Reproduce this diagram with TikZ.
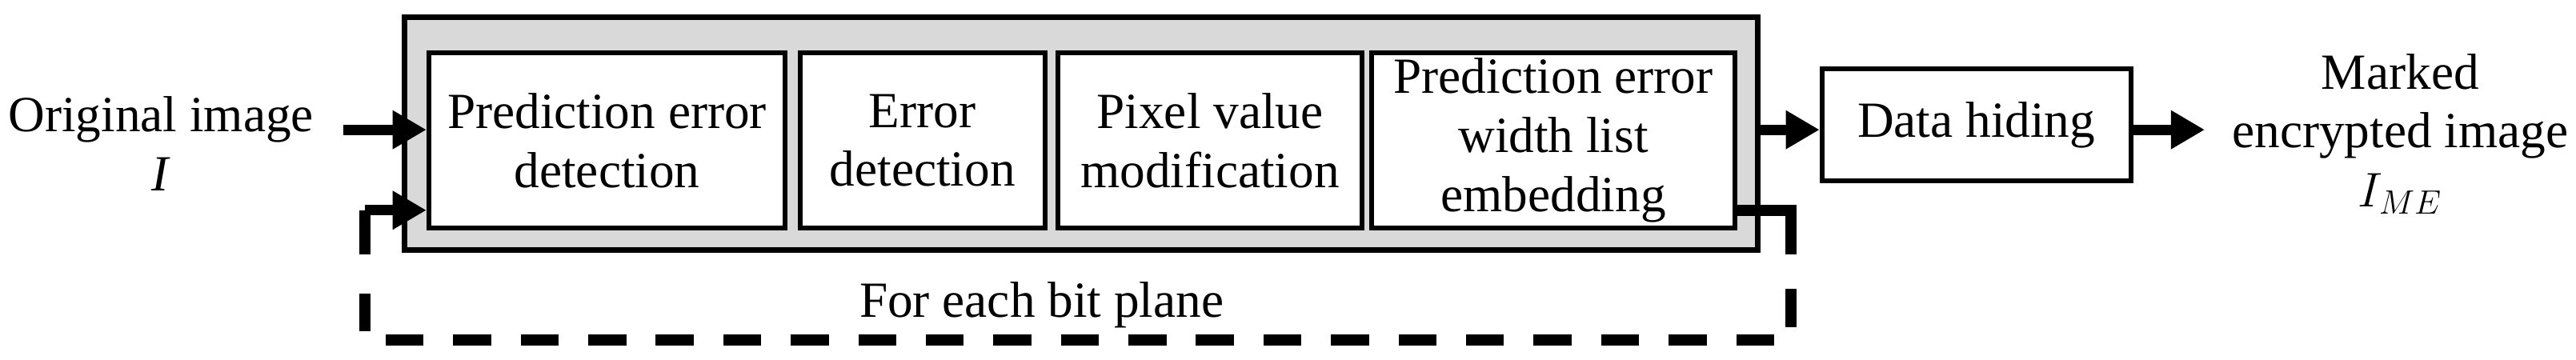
\documentclass[tikz,border=0pt]{standalone}
\usepackage{fontspec}
\setmainfont{Liberation Serif}
\newfontfamily\diagserif{Liberation Serif}
\usetikzlibrary{arrows.meta}
\begin{document}
\begin{tikzpicture}[x=0.02053cm,y=-0.02053cm,
  txt/.style={font=\diagserif\fontsize{18}{21}\selectfont,align=center,inner sep=0pt},
  inbox/.style={draw,fill=white,line width=1.7pt,txt,inner sep=0pt},
  bigarrow/.style={line width=3.7pt,-{Triangle[length=12pt,width=13pt]}},
  loopline/.style={line width=4pt}]
\useasboundingbox (0,0) rectangle (1568,219);
\node[draw,fill=black!15,line width=2pt,minimum width=824*0.02053cm,minimum height=141.5*0.02053cm,inner sep=0pt] (outer) at (658,81.25) {};
\node[inbox,minimum width=217*0.02053cm,minimum height=107*0.02053cm] (b1) at (369.5,85.5) {Prediction error\\detection};
\node[inbox,minimum width=149*0.02053cm,minimum height=107*0.02053cm] (b2) at (561.5,85.5) {Error\\detection};
\node[inbox,minimum width=185*0.02053cm,minimum height=107*0.02053cm] (b3) at (736.5,85.5) {Pixel value\\modification};
\node[inbox,minimum width=221*0.02053cm,minimum height=107*0.02053cm] (b4) at (945.5,85.5) {Prediction error\\width list\\embedding};
\node[inbox,minimum width=188*0.02053cm,minimum height=68*0.02053cm] (dh) at (1203,76) {Data hiding};
\node[txt,anchor=base] (orig) at (98,116) {Original image\\\textit{I}};
\node[txt,anchor=base] (marked) at (1461,126) {Marked\\encrypted image\\$I_{ME}$};
\node[txt,anchor=base] (loop) at (634,193) {For each bit plane};
\coordinate (inA) at (209,79);
\coordinate (outE) at (1342,79);
\coordinate (r1) at (1090,128);
\coordinate (r2) at (1090,155);
\coordinate (r3) at (1090,176);
\coordinate (l3) at (222,176);
\coordinate (l2) at (222,155);
\coordinate (l1) at (222,128);
\draw[bigarrow] (inA) -- (b1.west |- inA);
\draw[bigarrow] (outer.east |- inA) -- (dh.west |- inA);
\draw[bigarrow] (dh.east |- inA) -- (outE);
\draw[loopline] (b4.east |- r1) -- (r1) -- (r2);
\draw[loopline,dash pattern=on 13.5pt off 10.5pt] (r3) -- (1090,207) -- (222,207) -- (l3);
\draw[loopline] (l2) -- (l1);
\draw[bigarrow] (l1) -- (b1.west |- l1);
\end{tikzpicture}
\end{document}
